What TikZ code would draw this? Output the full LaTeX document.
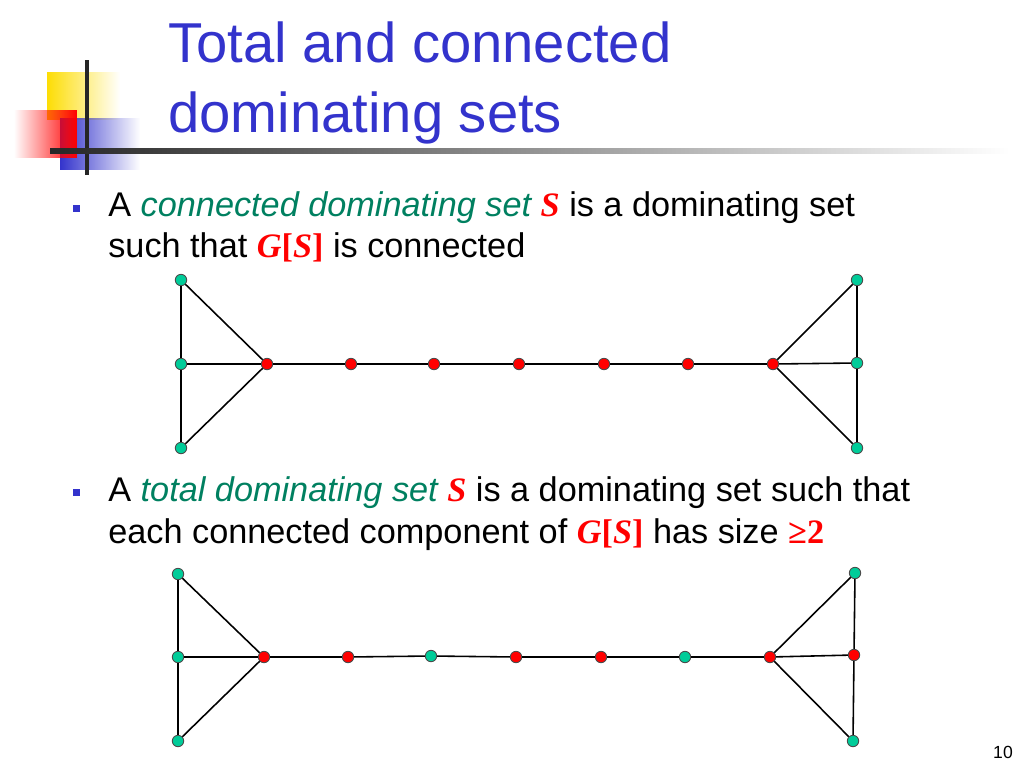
\documentclass[tikz,border=0pt]{standalone}
\usepackage{fontspec}
\setmainfont{Liberation Sans}
\newfontfamily\serifface{Liberation Serif}
\usetikzlibrary{fadings}
\definecolor{titleblue}{RGB}{51,51,204}
\definecolor{setgreen}{RGB}{0,128,96}
\definecolor{dotgreen}{RGB}{0,204,153}
\newcommand{\redS}{{\serifface\bfseries\itshape\color{red}S}}
\newcommand{\redGS}{{\serifface\bfseries\color{red}\textit{G}[\textit{S}]}}
\begin{document}
\begin{tikzpicture}[x=0.02cm,y=-0.02cm,
    vtx/.style={circle,draw=black!70,line width=0.5pt,inner sep=0pt,minimum size=6.5pt},
    dom/.style={vtx,fill=red},
    non/.style={vtx,fill=dotgreen},
    edge/.style={line width=0.9pt},
    line/.style={anchor=base west,font=\fontsize{19.5}{24}\selectfont,inner sep=0pt},
    head/.style={anchor=base west,font=\fontsize{32}{38}\selectfont,text=titleblue,inner sep=0pt}]
  \useasboundingbox (0,0) rectangle (1024,768);

  % Logo
  \fill[yellow!80!orange,path fading=east] (47,72) rectangle (120,120);
  \fill[titleblue,path fading=east] (60,118) rectangle (140,170);
  \fill[red,path fading=west] (14,110) rectangle (77,158);
  \draw[line width=2.5pt,black!85] (87,60) -- (87,175);
  \shade[left color=black!85,right color=white] (50,148) rectangle (1010,153);

  % Title
  \node[head] (t1) at (168,62) {Total and connected};
  \node[head] (t2) at (168,132) {dominating sets};

  % Bullets
  \fill[titleblue] (73,205) rectangle (80,212);
  \fill[titleblue] (73,489) rectangle (80,496);
  \node[line] (b1) at (108,216) {A {\color{setgreen}\itshape connected dominating set} \redS{} is a dominating set};
  \node[line] (b1b) at (108,257) {such that \redGS{} is connected};
  \node[line] (b2) at (108,501) {A {\color{setgreen}\itshape total dominating set} \redS{} is a dominating set such that};
  \node[line] (b2b) at (108,543) {each connected component of \redGS{} has size {\serifface\bfseries\color{red}≥2}};

  % Graph 1
  \foreach \n/\x/\y/\s in {a/181/280/non,b/181/364/non,c/181/448/non,h/267/364/dom,
      p1/351/364/dom,p2/434/364/dom,p3/519/364/dom,p4/604/364/dom,p5/688/364/dom,
      k/773/364/dom,d/857/280/non,e/857/363/non,f/857/448/non}
    \node[\s] (g\n) at (\x,\y) {};
  \foreach \u/\v in {a/b,b/c,a/h,b/h,c/h,h/p1,p1/p2,p2/p3,p3/p4,p4/p5,p5/k,k/d,k/e,k/f,d/e,e/f}
    \draw[edge] (g\u) -- (g\v);

  % Graph 2
  \foreach \n/\x/\y/\s in {a/178/574/non,b/178/657/non,c/178/741/non,h/264/657/dom,
      p1/348/657/dom,p2/431/656/non,p3/516/657/dom,p4/601/657/dom,p5/685/657/non,
      k/770/657/dom,d/855/573/non,e/854/655/dom,f/853/741/non}
    \node[\s] (q\n) at (\x,\y) {};
  \foreach \u/\v in {a/b,b/c,a/h,b/h,c/h,h/p1,p1/p2,p2/p3,p3/p4,p4/p5,p5/k,k/d,k/e,k/f,d/e,e/f}
    \draw[edge] (q\u) -- (q\v);

  % Page number
  \node[font=\fontsize{10}{12}\selectfont] (pg) at (1003,752) {10};
\end{tikzpicture}
\end{document}
